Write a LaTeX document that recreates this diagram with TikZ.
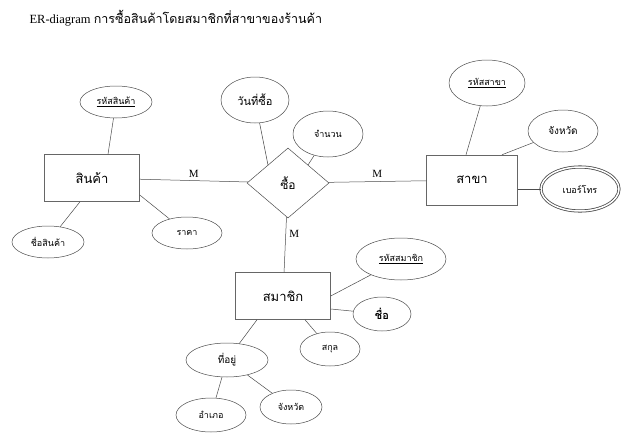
\documentclass[tikz,border=0pt]{standalone}
\usepackage{fontspec}
\setmainfont{Liberation Serif}
\newfontfamily\thaifont[Script=Thai]{Loma}
\usetikzlibrary{shapes.geometric,shapes.misc}
\begin{document}
\begin{tikzpicture}[x=1pt,y=-1pt,line width=0.5pt,draw=black!70,
  ent/.style={draw=black!60,rectangle,minimum width=95pt,minimum height=47pt,font=\thaifont\fontsize{13}{13}\selectfont},
  att/.style={draw=black!70,ellipse,inner sep=0pt,font=\thaifont\fontsize{9}{9}\selectfont},
  rel/.style={draw=black!70,diamond,aspect=1.17,minimum width=82pt,minimum height=70pt,inner sep=0pt,font=\thaifont\fontsize{12}{12}\selectfont},
  lbl/.style={font=\fontsize{11}{11}\selectfont}]
\useasboundingbox (0,0) rectangle (640,447);
\fill[white] (0,0) rectangle (640,447);
\node[anchor=west,font=\fontsize{12.5}{12.5}\selectfont] (title) at (26,18) {ER-diagram {\thaifont การซื้อสินค้าโดยสมาชิกที่สาขาของร้านค้า}};
\node[ent] (prod) at (92,178) {สินค้า};
\node[ent,minimum width=91pt,minimum height=50pt] (br) at (472,180) {สาขา};
\node[ent] (mem) at (283,296) {สมาชิก};
\node[rel] (buy) at (288,183) {ซื้อ};
\coordinate (bnw) at (268,165);
\coordinate (bne) at (308,165);
\node[att,minimum width=72pt,minimum height=32pt] (pid) at (116,102) {\underline{รหัสสินค้า}};
\node[att,minimum width=72pt,minimum height=32pt] (pname) at (48,242) {ชื่อสินค้า};
\node[att,minimum width=70pt,minimum height=32pt] (price) at (187,233) {ราคา};
\node[att,minimum width=68pt,minimum height=46pt,font=\thaifont\fontsize{11}{11}\selectfont] (date) at (255,100) {วันที่ซื้อ};
\node[att,minimum width=70pt,minimum height=46pt] (qty) at (328,134) {จำนวน};
\node[att,minimum width=76pt,minimum height=46pt] (bid) at (487,83) {\underline{รหัสสาขา}};
\node[att,minimum width=70pt,minimum height=42pt,font=\thaifont\fontsize{10}{10}\selectfont] (prov) at (563,131) {จังหวัด};
\node[att,minimum width=78pt,minimum height=44pt,double,double distance=1.5pt,line width=0.8pt] (tel) at (580,189) {เบอร์โทร};
\node[att,minimum width=90pt,minimum height=42pt] (mid) at (401,259) {\underline{รหัสสมาชิก}};
\node[att,minimum width=58pt,minimum height=34pt,font=\thaifont\bfseries\fontsize{11}{11}\selectfont] (mname) at (382,314) {ชื่อ};
\node[att,minimum width=60pt,minimum height=34pt] (sur) at (330,349) {สกุล};
\node[att,minimum width=82pt,minimum height=34pt,font=\thaifont\fontsize{10}{10}\selectfont] (addr) at (227,360) {ที่อยู่};
\node[att,minimum width=70pt,minimum height=34pt] (amp) at (211,415) {อำเภอ};
\node[att,minimum width=62pt,minimum height=34pt] (prov2) at (291,407) {จังหวัด};
\draw (prod) -- node[lbl,above] {M} (buy);
\draw (buy) -- node[lbl,above] {M} (br);
\draw (buy) -- node[lbl,right,pos=0.3] {M} (mem);
\draw (pid) -- (prod.north -| 108,0);
\draw (prod.south -| 80,0) -- (pname);
\draw (prod.east |- 0,195) -- (price);
\draw (date) -- (bnw);
\draw (qty) -- (bne);
\draw (bid) -- (br.north -| 466,0);
\draw (prov) -- (br.north -| 502,0);
\draw (br.east |- 0,189) -- (tel);
\draw (mid) -- (mem.east |- 0,296);
\draw (mem.east |- 0,309) -- (mname);
\draw (mem.south -| 305,0) -- (sur);
\draw (mem.south -| 257,0) -- (addr);
\draw (addr) -- (amp);
\draw (addr) -- (prov2);
\end{tikzpicture}
\end{document}
